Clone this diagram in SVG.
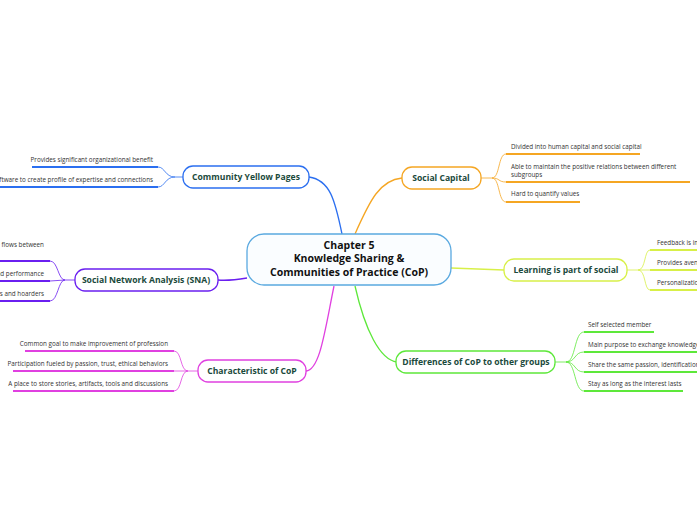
<svg xmlns="http://www.w3.org/2000/svg" width="697" height="520" viewBox="0 0 697 520">
<style>
text{font-family:"Open Sans","Noto Sans",sans-serif}
.leaf{font-size:6.3px;fill:#333}
.r{text-anchor:end}
.lbl{font-size:8.6px;font-weight:bold;fill:#1b4a3c;text-anchor:middle}
.node{fill:#fff;stroke-width:1.3}
.ul{stroke-width:2;fill:none}
.c{fill:none;stroke-width:1.3}
.t{fill:none;stroke-width:0.8}
</style>
<rect width="697" height="520" fill="#fff"/>
<g id="connectors">
<path class="c" stroke="#2b6ff0" d="M309,177 C330,180 335,200 342,234"/>
<path class="c" stroke="#f5a623" d="M355,234 C370,200 380,180 402,178"/>
<path class="c" stroke="#d8f048" d="M451,268 L504,270"/>
<path class="c" stroke="#5de83a" d="M355,286 C365,330 380,360 397,362"/>
<path class="c" stroke="#e040e0" d="M334,286 C325,330 320,370 306,371"/>
<path class="c" stroke="#6a1ff0" d="M247,278 C235,280 228,281 218,280"/>
<path class="t" stroke="#2b6ff0" d="M183,177 L175,177 C165,177 165,167 158,167 M175,177 C165,177 165,187 158,187"/>
<path class="t" stroke="#f5a623" d="M481,178 L492,178 C500,178 498,154 506,154 M492,178 C500,178 498,182 506,182 M492,178 C500,178 498,202 506,202"/>
<path class="t" stroke="#d8f048" d="M627,270 L638,270 C646,270 644,250 650,250 M638,270 L650,270 M638,270 C646,270 644,290 650,290"/>
<path class="t" stroke="#5de83a" d="M555,362 L566,362 C576,362 574,332 584,332 M566,362 C576,362 574,352 584,352 M566,362 C576,362 574,372 584,372 M566,362 C576,362 574,391 584,391"/>
<path class="t" stroke="#e040e0" d="M198,371 L188,371 C180,371 182,351 174,351 M188,371 L174,371 M188,371 C180,371 182,391 174,391"/>
<path class="t" stroke="#6a1ff0" d="M75,280 L65,280 C58,280 58,261 50,261 M65,280 L50,281 M65,280 C58,280 58,301 50,301"/>
</g>
<g id="center">
<rect x="247" y="234" width="204" height="51" rx="17" fill="#fafdff" stroke="#5aa9e0" stroke-width="1.3"/>
<text x="349" y="249" text-anchor="middle" font-size="10.5" font-weight="bold" fill="#111">Chapter 5</text>
<text x="349" y="262" text-anchor="middle" font-size="10.5" font-weight="bold" fill="#111">Knowledge Sharing &amp;</text>
<text x="349" y="276" text-anchor="middle" font-size="10.5" font-weight="bold" fill="#111">Communities of Practice (CoP)</text>
</g>
<g id="yellow-pages">
<rect class="node" x="183" y="166" width="126" height="22" rx="10" stroke="#2b6ff0"/>
<text class="lbl" x="246" y="180">Community Yellow Pages</text>
<text class="leaf r" x="153" y="162">Provides significant organizational benefit</text>
<line class="ul" stroke="#2b6ff0" x1="32" y1="167" x2="158" y2="167"/>
<text class="leaf r" x="153" y="182">Use software to create profile of expertise and connections</text>
<line class="ul" stroke="#2b6ff0" x1="0" y1="187" x2="158" y2="187"/>
</g>
<g id="social-capital">
<rect class="node" x="402" y="167" width="79" height="22" rx="10" stroke="#f5a623"/>
<text class="lbl" x="441" y="181">Social Capital</text>
<text class="leaf" x="511" y="149">Divided into human capital and social capital</text>
<line class="ul" stroke="#f5a623" x1="506" y1="154" x2="640" y2="154"/>
<text class="leaf" x="511" y="169">Able to maintain the positive relations between different</text>
<text class="leaf" x="511" y="177">subgroups</text>
<line class="ul" stroke="#f5a623" x1="506" y1="182" x2="690" y2="182"/>
<text class="leaf" x="511" y="196">Hard to quantify values</text>
<line class="ul" stroke="#f5a623" x1="506" y1="202" x2="580" y2="202"/>
</g>
<g id="learning">
<rect class="node" x="504" y="259" width="123" height="22" rx="10" stroke="#d8f048"/>
<text class="lbl" x="566" y="273">Learning is part of social</text>
<text class="leaf" x="657" y="245">Feedback is important</text>
<line class="ul" stroke="#d8f048" x1="650" y1="250" x2="697" y2="250"/>
<text class="leaf" x="657" y="265">Provides avenue</text>
<line class="ul" stroke="#d8f048" x1="650" y1="270" x2="697" y2="270"/>
<text class="leaf" x="657" y="285">Personalization</text>
<line class="ul" stroke="#d8f048" x1="650" y1="290" x2="697" y2="290"/>
</g>
<g id="differences">
<rect class="node" x="396" y="351" width="159" height="22" rx="10" stroke="#5de83a"/>
<text class="lbl" x="476" y="365">Differences of CoP to other groups</text>
<text class="leaf" x="588" y="327">Self selected member</text>
<line class="ul" stroke="#5de83a" x1="584" y1="332" x2="654" y2="332"/>
<text class="leaf" x="588" y="347">Main purpose to exchange knowledge</text>
<line class="ul" stroke="#5de83a" x1="584" y1="352" x2="697" y2="352"/>
<text class="leaf" x="588" y="367">Share the same passion, identification with</text>
<line class="ul" stroke="#5de83a" x1="584" y1="372" x2="697" y2="372"/>
<text class="leaf" x="588" y="386">Stay as long as the interest lasts</text>
<line class="ul" stroke="#5de83a" x1="584" y1="391" x2="683" y2="391"/>
</g>
<g id="characteristic">
<rect class="node" x="198" y="360" width="108" height="22" rx="10" stroke="#e040e0"/>
<text class="lbl" x="252" y="374">Characteristic of CoP</text>
<text class="leaf r" x="168" y="346">Common goal to make improvement of profession</text>
<line class="ul" stroke="#e040e0" x1="25" y1="351" x2="174" y2="351"/>
<text class="leaf r" x="168" y="366">Participation fueled by passion, trust, ethical behaviors</text>
<line class="ul" stroke="#e040e0" x1="13" y1="371" x2="174" y2="371"/>
<text class="leaf r" x="168" y="386">A place to store stories, artifacts, tools and discussions</text>
<line class="ul" stroke="#e040e0" x1="13" y1="391" x2="174" y2="391"/>
</g>
<g id="sna">
<rect class="node" x="75" y="269" width="143" height="22" rx="10" stroke="#6a1ff0"/>
<text class="lbl" x="146" y="283">Social Network Analysis (SNA)</text>
<text class="leaf r" x="44" y="247">Examines knowledge flows between</text>
<line class="ul" stroke="#6a1ff0" x1="0" y1="261" x2="50" y2="261"/>
<text class="leaf r" x="44" y="276">Improves collaboration and performance</text>
<line class="ul" stroke="#6a1ff0" x1="0" y1="281" x2="50" y2="281"/>
<text class="leaf r" x="44" y="296">Identifies brokers and hoarders</text>
<line class="ul" stroke="#6a1ff0" x1="0" y1="301" x2="50" y2="301"/>
</g>
</svg>
